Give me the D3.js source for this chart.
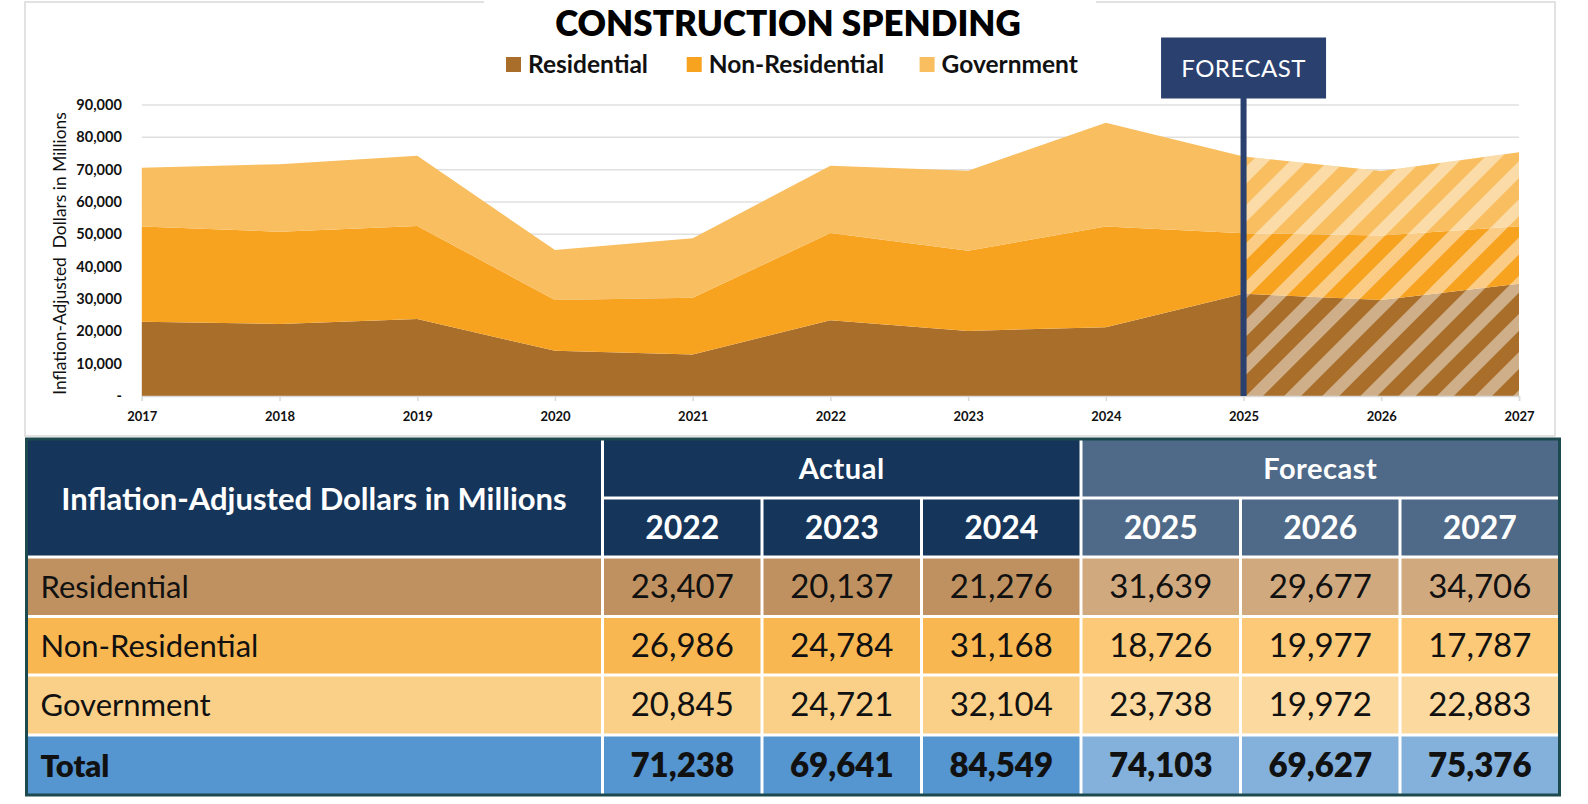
<!DOCTYPE html>
<html>
<head>
<meta charset="utf-8">
<script src="https://cdn.jsdelivr.net/npm/d3@7"></script>
<style>
  html, body { margin: 0; padding: 0; background: #fff; }
  svg { display: block; font-family: Lato, "Open Sans", sans-serif; }
</style>
</head>
<body>
<div id="graph"></div>
<script>
const years = [2017, 2018, 2019, 2020, 2021, 2022, 2023, 2024, 2025, 2026, 2027];
const residential = [23000, 22300, 23800, 14000, 12800, 23407, 20137, 21276, 31639, 29677, 34706];
const nonResidential = [29400, 28500, 28800, 15700, 17600, 26986, 24784, 31168, 18726, 19977, 17787];
const government = [18200, 20900, 21700, 15450, 18400, 20845, 24721, 32104, 23738, 19972, 22883];
const seriesNames = ["Residential", "Non-Residential", "Government"];
const yTicks = [0, 10000, 20000, 30000, 40000, 50000, 60000, 70000, 80000, 90000];
const forecastStart = 2025;

const tableYears = [2022, 2023, 2024, 2025, 2026, 2027];
const tableTotals = [71238, 69641, 84549, 74103, 69627, 75376];
const tableGroups = ["Actual", "Forecast"];

const areaColors = ["#a86e2a", "#f8a320", "#f8be5f"];
const rowColors = { actual: ["#c09160", "#f9b752", "#fad089", "#5595d0"], forecast: ["#d0a97f", "#fbc977", "#fbd99f", "#83b1dc"] };
const navy = "#15355a";
const navyFc = "#4f6a88";

const W = 1588, H = 804;
const svg = d3.select("#graph").append("svg").attr("width", W).attr("height", H);

// ---------- chart ----------
const pad = { l: 141.8, r: 1519, t: 105, b: 396 };
const x = d3.scaleLinear().domain([years[0], years[years.length - 1]]).range([pad.l, pad.r]);
const y = d3.scaleLinear().domain([0, 90000]).range([pad.b, pad.t]);

const rows = years.map((yr, i) => ({ year: yr, Residential: residential[i], "Non-Residential": nonResidential[i], Government: government[i] }));
const stacked = d3.stack().keys(seriesNames)(rows);

// frame
svg.append("rect").attr("x", 25).attr("y", 2).attr("width", 1530).attr("height", 434)
  .attr("fill", "none").attr("stroke", "#d9d9d9").attr("stroke-width", 1.5);
svg.append("rect").attr("x", 484).attr("y", 0).attr("width", 612).attr("height", 8).attr("fill", "#fff");

const defs = svg.append("defs");
const pat = defs.append("pattern").attr("id", "hatch").attr("patternUnits", "userSpaceOnUse")
  .attr("width", 27).attr("height", 27).attr("patternTransform", "rotate(45)");
pat.append("rect").attr("x", 0).attr("y", 0).attr("width", 12).attr("height", 27).attr("fill", "#fff").attr("fill-opacity", 0.45);

// gridlines
svg.append("g").selectAll("line").data(yTicks.filter((d) => d > 0)).join("line")
  .attr("x1", pad.l).attr("x2", pad.r).attr("y1", (d) => y(d)).attr("y2", (d) => y(d))
  .attr("stroke", "#e0e0e0").attr("stroke-width", 1.5);

const area = d3.area().x((d) => x(d.data.year)).y0((d) => y(d[0])).y1((d) => y(d[1]));
svg.append("g").selectAll("path").data(stacked).join("path")
  .attr("d", area).attr("fill", (d, i) => areaColors[i]);

// hatch over the forecast part
const fcRows = stacked[2].filter((d) => d.data.year >= forecastStart);
svg.append("path").datum(fcRows)
  .attr("d", d3.area().x((d) => x(d.data.year)).y0(y(0)).y1((d) => y(d[1])))
  .attr("fill", "url(#hatch)");

// axes
const xAxis = svg.append("g").attr("transform", `translate(0,${pad.b})`)
  .call(d3.axisBottom(x).tickValues(years).tickFormat(d3.format("d")).tickSize(5).tickPadding(11));
xAxis.select(".domain").attr("stroke", "#d9d9d9").attr("stroke-width", 1.5);
xAxis.selectAll(".tick line").attr("stroke", "#d9d9d9").attr("stroke-width", 1.5);
xAxis.selectAll("text").attr("font-size", 13).attr("font-weight", 700).attr("fill", "#111")
  .attr("font-family", "Lato, sans-serif");

const yAxis = svg.append("g").attr("transform", `translate(${pad.l - 17},0)`)
  .call(d3.axisLeft(y).tickValues(yTicks).tickSize(0).tickFormat((d) => (d === 0 ? "-" : d3.format(",")(d))));
yAxis.select(".domain").remove();
yAxis.selectAll("text").attr("font-size", 14.5).attr("font-weight", 700).attr("fill", "#111")
  .attr("font-family", "Lato, sans-serif");

svg.append("text").attr("transform", `translate(66,${(pad.t + pad.b) / 2 + 3}) rotate(-90)`)
  .attr("text-anchor", "middle").attr("font-size", 17.4).attr("fill", "#111")
  .attr("xml:space", "preserve").text("Inflation-Adjusted  Dollars in Millions");

// title + legend
svg.append("text").attr("x", 788).attr("y", 36).attr("text-anchor", "middle")
  .attr("font-size", 35).attr("font-weight", 800).attr("fill", "#000")
  .text("CONSTRUCTION SPENDING");

const legendX = [506, 686.7, 919.6];
const lg = svg.append("g").selectAll("g").data(seriesNames).join("g")
  .attr("transform", (d, i) => `translate(${legendX[i]},57)`);
lg.append("rect").attr("width", 15).attr("height", 15).attr("fill", (d, i) => areaColors[i]);
lg.append("text").attr("x", 22).attr("y", 16).attr("font-size", 24.5).attr("font-weight", 700)
  .attr("fill", "#111").text((d) => d);

// forecast marker
const fx = x(forecastStart);
svg.append("line").attr("x1", fx).attr("x2", fx).attr("y1", 95).attr("y2", pad.b)
  .attr("stroke", "#2a4170").attr("stroke-width", 6);
svg.append("rect").attr("x", fx - 82.5).attr("y", 37.5).attr("width", 165).attr("height", 61).attr("fill", "#2a4170");
svg.append("text").attr("x", fx).attr("y", 77).attr("text-anchor", "middle").attr("font-size", 24)
  .attr("fill", "#fff").attr("letter-spacing", 0.5).text("FORECAST");

// ---------- table ----------
const T = { l: 26.5, r: 1559.5, t: 439, b: 795 };
const labelW = 576;
const col = d3.scaleBand().domain(tableYears).range([T.l + labelW, T.r]);
const gap = 1.5;
const rowY = [T.t, 498, 557, 616.5, 675, 735, T.b];

const table = svg.append("g");
table.append("rect").attr("x", T.l).attr("y", T.t).attr("width", T.r - T.l).attr("height", T.b - T.t).attr("fill", "#fff");

const isFc = (yr) => yr >= forecastStart;
const cell = (x0, x1, y0, y1, fill) =>
  table.append("rect").attr("x", x0 + gap).attr("y", y0 + gap).attr("width", x1 - x0 - 2 * gap)
    .attr("height", y1 - y0 - 2 * gap).attr("fill", fill);

// header
cell(T.l - gap, T.l + labelW, T.t - gap, rowY[2], navy);
table.append("text").attr("x", 314).attr("y", (T.t + rowY[2]) / 2 + 12).attr("text-anchor", "middle")
  .attr("font-size", 31).attr("font-weight", 700).attr("fill", "#fff").text("Inflation-Adjusted Dollars in Millions");

tableGroups.forEach((g, gi) => {
  const ys = tableYears.filter((yr) => (gi === 1) === isFc(yr));
  const x0 = col(ys[0]), x1 = col(ys[ys.length - 1]) + col.bandwidth();
  cell(x0, gi === 1 ? x1 + gap : x1, T.t - gap, rowY[1], gi ? navyFc : navy);
  table.append("text").attr("x", (x0 + x1) / 2).attr("y", (T.t + rowY[1]) / 2 + 10).attr("text-anchor", "middle")
    .attr("font-size", 29).attr("font-weight", 700).attr("fill", "#fff").attr("letter-spacing", 0.5).text(g);
});

tableYears.forEach((yr, i) => {
  const x0 = col(yr), x1 = x0 + col.bandwidth() + (i === tableYears.length - 1 ? gap : 0);
  cell(x0, x1, rowY[1], rowY[2], isFc(yr) ? navyFc : navy);
  table.append("text").attr("x", col(yr) + col.bandwidth() / 2).attr("y", (rowY[1] + rowY[2]) / 2 + 11)
    .attr("text-anchor", "middle").attr("font-size", 32).attr("font-weight", 700).attr("fill", "#fff").text(yr);
});

// body
const first = years.indexOf(tableYears[0]);
const bodyRows = [
  { name: "Residential", vals: residential.slice(first) },
  { name: "Non-Residential", vals: nonResidential.slice(first) },
  { name: "Government", vals: government.slice(first) },
  { name: "Total", vals: tableTotals, bold: true },
];
bodyRows.forEach((r, ri) => {
  const y0 = rowY[ri + 2], y1 = ri === 3 ? T.b + gap : rowY[ri + 3];
  const cy = (y0 + y1) / 2 + 11;
  cell(T.l - gap, T.l + labelW, y0, y1, rowColors.actual[ri]);
  table.append("text").attr("x", T.l + 14).attr("y", cy).attr("font-size", 31)
    .attr("font-weight", r.bold ? 800 : 400).attr("fill", "#111").text(r.name);
  tableYears.forEach((yr, i) => {
    const x0 = col(yr), x1 = x0 + col.bandwidth() + (i === tableYears.length - 1 ? gap : 0);
    cell(x0, x1, y0, y1, isFc(yr) ? rowColors.forecast[ri] : rowColors.actual[ri]);
    table.append("text").attr("x", x0 + col.bandwidth() / 2).attr("y", cy).attr("text-anchor", "middle")
      .attr("font-size", 33).attr("font-weight", r.bold ? 800 : 400).attr("fill", "#111")
      .text(d3.format(",")(r.vals[i]));
  });
});

table.append("rect").attr("x", T.l).attr("y", T.t).attr("width", T.r - T.l).attr("height", T.b - T.t)
  .attr("fill", "none").attr("stroke", "#1c4a4e").attr("stroke-width", 3);
</script>
</body>
</html>
